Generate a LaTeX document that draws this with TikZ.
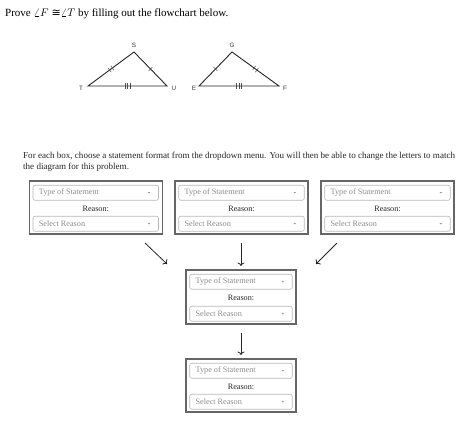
\documentclass[tikz,border=0pt]{standalone}
\usepackage{fontspec}
\setmainfont{Liberation Serif}
\setsansfont{Liberation Sans}
\newfontfamily\symfont{DejaVu Sans}
\usetikzlibrary{arrows.meta,calc}
\tikzset{
  outerbox/.style={draw=black!60, line width=1.1pt, minimum height=53pt, inner sep=0pt},
  ddbox/.style={draw=black!28, line width=0.6pt, rounded corners=2pt, minimum height=15pt, inner sep=0pt},
  hint/.style={text=black!45, font=\fontsize{8.2}{9}\selectfont, inner sep=0pt},
  reasonlbl/.style={text=black!85, font=\fontsize{8.2}{9}\selectfont, inner sep=0pt},
  vlabel/.style={font=\sffamily\fontsize{6.3}{7}\selectfont, text=black!80, inner sep=0pt},
  tri/.style={draw=black!85, line width=0.9pt},
  tickline/.style={draw=black!70, line width=0.5pt},
  flowarrow/.style={draw=black!85, line width=0.8pt, -{To[length=3.5pt,width=7pt]}}
}
\newcommand\flowunit[5]{% name, cx, cy, width, height
  \node[outerbox, minimum width=#4pt, minimum height=#5pt] (#1) at (#2,#3) {};
  \node[ddbox, minimum width=#4pt-7.5pt, anchor=north] (#1-s) at ([yshift=-4.5pt]#1.north) {};
  \node[hint, anchor=west] (#1-st) at ([xshift=6pt]#1-s.west) {Type of Statement};
  \fill[black!40] ([xshift=-11pt,yshift=0.7pt]#1-s.east) -- ++(2.6,0) -- ++(-1.3,1.4) -- cycle;
  \node[reasonlbl] (#1-r) at ([yshift=-28pt]#1.north) {Reason:};
  \node[ddbox, minimum width=#4pt-7.5pt, anchor=south] (#1-d) at ([yshift=3pt]#1.south) {};
  \node[hint, anchor=west] (#1-dt) at ([xshift=6pt]#1-d.west) {Select Reason};
  \fill[black!40] ([xshift=-11pt,yshift=0.7pt]#1-d.east) -- ++(2.6,0) -- ++(-1.3,1.4) -- cycle;
}
\newcommand\tk[3]{%
  \coordinate (tkp) at ($(#1)!#3!(#2)$);
  \draw[tickline] ($(tkp)!2.6pt!90:(#2)$) -- ($(tkp)!2.6pt!-90:(#2)$);}
\begin{document}
\begin{tikzpicture}[x=1pt,y=-1pt]
\useasboundingbox[fill=white] (0,0) rectangle (474,424);

% title
\node[anchor=west, inner sep=0pt, font=\fontsize{11}{12}\selectfont] (title) at (5,14)
  {Prove $\angle F$ {\symfont ≅}$\angle T$ by filling out the flowchart below.};

% triangles
\coordinate (T) at (88,86);
\coordinate (S) at (134,52);
\coordinate (U) at (167,86);
\coordinate (E) at (199,86);
\coordinate (G) at (232,52);
\coordinate (F) at (279,86);
\draw[tri] (T) -- (S) -- (U) -- cycle;
\draw[tri] (E) -- (G) -- (F) -- cycle;
\node[vlabel] (lT) at (81,88) {T};
\node[vlabel] (lS) at (134,45) {S};
\node[vlabel] (lU) at (174,88) {U};
\node[vlabel] (lE) at (194,88) {E};
\node[vlabel] (lG) at (232,45) {G};
\node[vlabel] (lF) at (285,88) {F};
% tick marks
\tk{T}{S}{0.47}\tk{T}{S}{0.53}
\tk{S}{U}{0.5}
\tk{T}{U}{0.47}\tk{T}{U}{0.5}\tk{T}{U}{0.53}
\tk{E}{G}{0.5}
\tk{G}{F}{0.47}\tk{G}{F}{0.53}
\tk{E}{F}{0.47}\tk{E}{F}{0.5}\tk{E}{F}{0.53}

% instructions
\node[anchor=west, inner sep=0pt, text=black!85, font=\fontsize{9.05}{10}\selectfont] (ins1) at (23,156)
  {For each box, choose a statement format from the dropdown menu. You will then be able to change the letters to match};
\node[anchor=west, inner sep=0pt, text=black!85, font=\fontsize{9.05}{10}\selectfont] (ins2) at (23,167)
  {the diagram for this problem.};

% flow boxes
\flowunit{b1}{95.75}{207.5}{133}{53}
\flowunit{b2}{241.5}{207.5}{133}{53}
\flowunit{b3}{387.5}{207.5}{133}{53}
\flowunit{b4}{241}{297}{110}{54}
\flowunit{b5}{241}{385.5}{110}{53}

% arrows
\coordinate (a1s) at (145,243); \coordinate (a1e) at (167,264);
\coordinate (a2s) at (241,243); \coordinate (a2e) at (241,266);
\coordinate (a3s) at (337,243); \coordinate (a3e) at (316,264);
\coordinate (a4s) at (241,333); \coordinate (a4e) at (241,355);
\draw[flowarrow] (a1s) -- (a1e);
\draw[flowarrow] (a2s) -- (a2e);
\draw[flowarrow] (a3s) -- (a3e);
\draw[flowarrow] (a4s) -- (a4e);
\end{tikzpicture}
\end{document}
